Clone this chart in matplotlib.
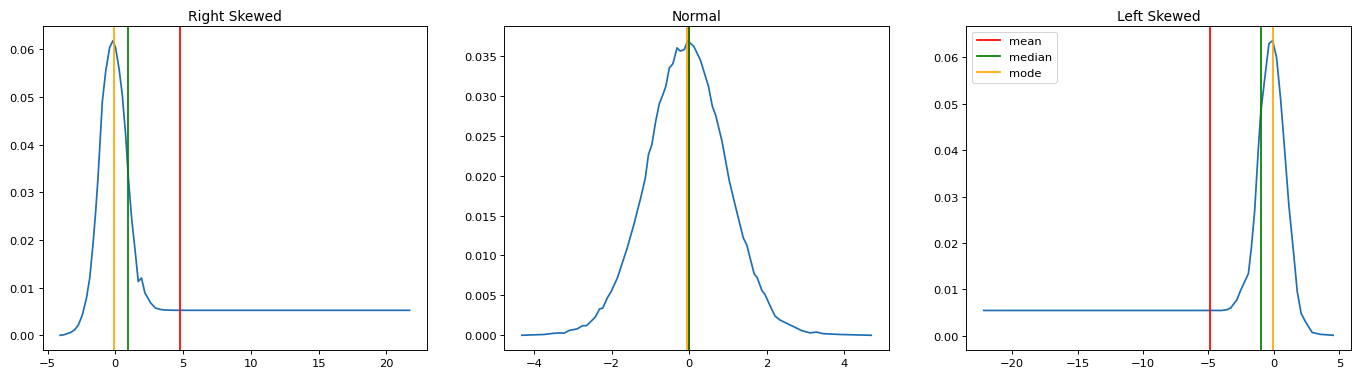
import matplotlib
matplotlib.use('Agg')
import matplotlib.pyplot as plt

plt.rcParams['font.size'] = 11
plt.rcParams['axes.titlesize'] = 13.2
plt.rcParams['lines.linewidth'] = 1.65
plt.rcParams['axes.linewidth'] = 0.9
plt.rcParams['xtick.major.width'] = 0.9
plt.rcParams['ytick.major.width'] = 0.9
plt.rcParams['xtick.major.size'] = 3.8
plt.rcParams['ytick.major.size'] = 3.8

# Right skewed curve
right_x = [-4.07, -3.80, -3.29, -2.98, -2.72, -2.43, -2.13, -1.89, -1.65, -1.45,
           -1.28, -0.96, -0.71, -0.42, -0.18, 0.02, 0.27, 0.51, 0.76, 0.96,
           1.20, 1.49, 1.69, 1.93, 2.18, 2.60, 2.96, 3.35, 3.70, 4.50, 21.70]
right_y = [0.0000, 0.0001, 0.0006, 0.0012, 0.0022, 0.0043, 0.0078, 0.0120, 0.0190, 0.0260,
           0.0330, 0.0490, 0.0554, 0.0604, 0.0618, 0.0603, 0.0560, 0.0505, 0.0420, 0.0330,
           0.0246, 0.0169, 0.0113, 0.0120, 0.0089, 0.0068, 0.0057, 0.0054, 0.0053, 0.00524, 0.00524]
right_stats = [4.78, 0.90, -0.10]   # mean, median, mode

# Normal curve
normal_x = [-4.32, -3.75, -3.49, -3.30, -3.23, -3.10, -2.89, -2.75, -2.65, -2.54,
            -2.42, -2.31, -2.23, -2.11, -2.01, -1.85, -1.60, -1.43, -1.25, -1.13,
            -1.05, -0.96, -0.87, -0.77, -0.68, -0.60, -0.51, -0.42, -0.31, -0.23,
            -0.12, -0.04, 0.12, 0.29, 0.50, 0.60, 0.69, 0.85, 1.04, 1.23,
            1.40, 1.49, 1.68, 1.76, 1.88, 1.96, 2.10, 2.22, 2.35, 2.69, 2.90,
            3.12, 3.29, 3.46, 3.89, 4.70]
normal_y = [0.0000, 0.0001, 0.00025, 0.0003, 0.00025, 0.0006, 0.0008, 0.0012, 0.0012, 0.0017,
            0.0023, 0.0033, 0.0034, 0.0047, 0.0055, 0.0072, 0.0109, 0.0138, 0.0172, 0.0197,
            0.0226, 0.0239, 0.0266, 0.0290, 0.0301, 0.0312, 0.0335, 0.0340, 0.0360, 0.0356,
            0.0358, 0.0369, 0.0362, 0.0345, 0.0312, 0.0287, 0.0275, 0.0243, 0.0193, 0.0155,
            0.0122, 0.0113, 0.0077, 0.0072, 0.0056, 0.0051, 0.0036, 0.0024, 0.0019, 0.0011, 0.0006,
            0.0003, 0.0004, 0.0002, 0.0001, 0.0000]
normal_stats = [0.0, 0.0, -0.05]

# Left skewed curve
left_x = [-22.16, -4.00, -3.60, -3.30, -2.84, -2.54, -1.95, -1.73, -1.47, -1.20,
          -1.01, -0.71, -0.38, -0.10, 0.20, 0.51, 0.81, 1.14, 1.52, 1.78,
          2.08, 2.41, 2.92, 3.55, 4.52]
left_y = [0.00545, 0.00545, 0.0056, 0.0060, 0.0077, 0.0098, 0.0134, 0.0188, 0.0270, 0.0400,
          0.0480, 0.0553, 0.0630, 0.0636, 0.0600, 0.0510, 0.0403, 0.0281, 0.0173, 0.0095,
          0.0048, 0.0030, 0.0007, 0.0003, 0.0001]
left_stats = [-4.85, -1.02, -0.05]

titles = ['Right Skewed', 'Normal', 'Left Skewed']
stat_labels = ['mean', 'median', 'mode']
stat_colors = ['red', 'green', 'orange']

dpi = 75.444
fig = plt.figure(figsize=(1358 / dpi, 380 / dpi), dpi=dpi)
lefts = [42.7, 504.3, 966.3]
axes = [fig.add_axes([l / 1358, 29 / 380, 384.3 / 1358, 324 / 380]) for l in lefts]

panels = [(right_x, right_y, right_stats),
          (normal_x, normal_y, normal_stats),
          (left_x, left_y, left_stats)]

for ax, (xs, ys, stats), title in zip(axes, panels, titles):
    ax.plot(xs, ys, color='#1f6fb4')
    for val, lab, col in zip(stats, stat_labels, stat_colors):
        ax.axvline(val, color=col, label=lab)
    ax.set_title(title)

axes[2].legend(loc='upper left')

fig.savefig('out.png', dpi=dpi)
